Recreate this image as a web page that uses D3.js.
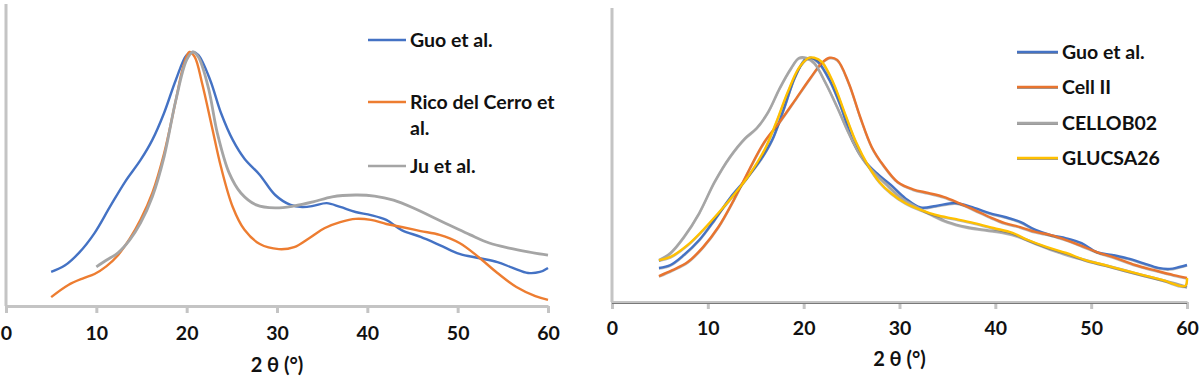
<!DOCTYPE html>
<html>
<head>
<meta charset="utf-8">
<script src="https://cdn.jsdelivr.net/npm/d3@7"></script>
<style>
  body { margin: 0; background: #fff; }
  svg { display: block; font-family: Lato, "Open Sans", sans-serif; font-weight: 700; }
</style>
</head>
<body>
<svg id="chart" width="1200" height="378"></svg>
<script>
// x axis ticks (2 theta, degrees)
const xTicks = [0, 10, 20, 30, 40, 50, 60]
const axisTitle = "2 θ (°)"

// left panel: normalised intensity
const guoLeftX = [5, 6.5, 8.1, 9.8, 11.5, 13.2, 14.9, 16.2, 17.5, 18.8, 20.0, 20.7, 21.3, 22.6, 23.8, 25.1, 26.4, 28.1, 29.8, 31.5, 32.8, 34.0, 35.5, 37.0, 38.7, 40.4, 42.1, 43.8, 45.9, 48.0, 50.2, 52.3, 54.4, 56.1, 57.8, 59.1, 60]
const guoLeftY = [13.4, 15.9, 21, 28.7, 39, 49, 57.5, 65.4, 76, 89, 98.8, 100, 98.8, 89, 76, 65.4, 58, 51.6, 43.7, 39.8, 39, 39.4, 40.5, 39, 37, 35.8, 33.9, 29.9, 27.2, 24, 20.5, 18.9, 17.3, 15, 13, 13.4, 15]
const ricoX = [5, 6.9, 8.6, 9.8, 11.1, 12.4, 13.7, 14.9, 16.2, 17.5, 18.8, 19.6, 20.3, 20.9, 21.7, 22.8, 23.8, 25.1, 26.4, 28.1, 30.2, 31.9, 33.6, 35.3, 37.0, 38.7, 40.4, 42.1, 43.8, 45.9, 48.0, 50.2, 52.3, 54.4, 56.5, 58.6, 60]
const ricoY = [3.5, 8.3, 11, 12.6, 15.6, 20, 26.5, 34, 44.5, 60, 81, 94, 100, 98, 87.8, 70.5, 54.7, 39, 30, 24.4, 22.4, 23.2, 26.8, 30.7, 33, 34.3, 33.9, 32.3, 31.1, 29.5, 28, 24.8, 19.3, 13, 7.5, 3.9, 2.4]
const juX = [10, 11.1, 12.4, 13.7, 14.9, 16.2, 17.5, 18.8, 20.0, 20.7, 21.3, 22.4, 23.4, 24.7, 26.0, 27.7, 29.8, 31.9, 34.0, 36.1, 38.7, 40.8, 42.9, 45.1, 47.2, 49.3, 51.4, 53.5, 55.7, 57.8, 60]
const juY = [15.4, 18, 20.9, 26, 32.7, 43, 58.7, 81, 96.9, 100, 98, 86, 68, 52.4, 44.5, 39.8, 38.6, 39.4, 41, 43, 43.7, 43.3, 41.7, 38.6, 35, 31.5, 28, 24.8, 22.8, 21.3, 20]

// right panel: normalised intensity
const guoRightX = [4.9, 6.1, 7.5, 9.1, 10.7, 12.3, 13.9, 15.5, 16.7, 17.9, 19.1, 20.1, 20.7, 21.5, 22.7, 23.9, 25.1, 26.3, 27.5, 29.1, 30.6, 32.2, 33.8, 35.8, 37.8, 39.4, 41.0, 42.6, 44.2, 45.8, 47.4, 49.0, 50.6, 52.2, 53.8, 55.4, 57.0, 58.2, 59.2, 60]
const guoRightY = [13.9, 15.1, 19.2, 25.3, 33.5, 42.4, 49.8, 58, 66, 78.4, 91.8, 98.8, 99.7, 98, 90.6, 79.6, 66, 58, 53, 47.8, 42.4, 38.6, 39.2, 40.4, 38.4, 36.3, 34.7, 32.7, 29.4, 27.3, 26, 24, 20.4, 19.2, 17.8, 15.9, 13.9, 13.5, 14.3, 15.1]
const cellX = [4.9, 6.3, 7.9, 9.5, 11.1, 12.7, 14.3, 15.9, 17.5, 19.1, 20.7, 21.9, 22.7, 23.5, 24.7, 25.9, 27.1, 28.3, 29.8, 31.4, 33.0, 34.6, 36.2, 37.8, 39.4, 41.0, 42.6, 44.2, 45.8, 47.4, 49.0, 50.6, 52.6, 54.6, 56.6, 58.6, 60]
const cellY = [10.6, 13, 16.3, 22.4, 30.6, 41.6, 53.9, 65.3, 73.5, 82.4, 91.4, 97.6, 99.7, 98.8, 89.4, 75.5, 63.3, 55.9, 49, 46, 44.5, 42.9, 40.4, 37.6, 34.7, 32.2, 30.6, 28.6, 27.3, 25.3, 22.9, 20.4, 17.9, 15.1, 13, 11, 9.8]
const cellobX = [4.9, 6.1, 7.5, 9.1, 10.7, 12.3, 13.9, 15.1, 16.3, 17.5, 18.7, 19.5, 20.3, 21.1, 22.3, 23.5, 24.7, 25.9, 27.1, 28.7, 30.2, 31.8, 33.4, 35.0, 37.0, 39.0, 41.0, 42.6, 44.6, 46.6, 48.6, 50.6, 52.6, 54.6, 56.6, 58.6, 60]
const cellobY = [17.1, 20, 26.5, 36.3, 49, 59.2, 66.9, 71, 77.6, 87.3, 95.5, 99.6, 99.6, 97.6, 89.4, 79.6, 69, 60, 53.9, 47.8, 42.4, 38.8, 35.5, 32.7, 30.6, 29.4, 28.2, 26.5, 23.3, 20.4, 18, 15.9, 13.9, 11.8, 9.8, 7.8, 6.1]
const glucX = [4.9, 6.1, 7.9, 9.5, 11.1, 12.7, 14.3, 15.9, 17.1, 18.3, 19.5, 20.5, 21.1, 21.9, 23.1, 24.3, 25.5, 26.7, 27.9, 29.1, 30.6, 32.2, 33.8, 35.8, 37.8, 39.8, 41.8, 43.4, 45.4, 47.4, 49.4, 51.4, 53.4, 55.4, 57.4, 59.8, 60]
const glucY = [17.1, 18.4, 23.3, 29.4, 36.3, 43.7, 51.8, 62, 73, 85.3, 95.5, 99.6, 99.7, 98, 89.4, 77, 65, 55.9, 49, 44.5, 40.4, 37.6, 35.5, 33.9, 32.2, 30.2, 28.2, 25.3, 22.4, 20, 17.1, 15.1, 13, 11, 9, 6.5, 9.8]

const leftSeries = [
    {name: "Guo et al.", x: guoLeftX, y: guoLeftY, color: "#4472c4"},
    {name: "Rico del Cerro et|al.", x: ricoX, y: ricoY, color: "#ed7d31"},
    {name: "Ju et al.", x: juX, y: juY, color: "#a5a5a5", width: 2.8}
]
const rightSeries = [
    {name: "Guo et al.", x: guoRightX, y: guoRightY, color: "#4472c4"},
    {name: "Cell II", x: cellX, y: cellY, color: "#e8742f"},
    {name: "CELLOB02", x: cellobX, y: cellobY, color: "#a5a5a5"},
    {name: "GLUCSA26", x: glucX, y: glucY, color: "#ffc000"}
]

const svg = d3.select("#chart")

function drawPanel(cfg) {
    const xScale = d3.scaleLinear()
                     .domain([0, 60])
                     .range([cfg.left, cfg.right])
    const yScale = d3.scaleLinear()
                     .domain([0, 100])
                     .range([cfg.base, cfg.peak])
    const g = svg.append("g")

    // y axis (no ticks)
    g.append("line")
     .attr("x1", cfg.left).attr("x2", cfg.left)
     .attr("y1", cfg.top).attr("y2", cfg.base)
     .attr("stroke", "#c4c4c4")
     .attr("stroke-width", 3)

    // x axis
    const xAxis = d3.axisBottom(xScale)
                    .tickValues(xTicks)
                    .tickSize(7)
                    .tickSizeOuter(0)
                    .tickFormat(d3.format("d"))
    const ax = g.append("g")
                .attr("transform", `translate(0, ${cfg.base})`)
                .call(xAxis)
    ax.select(".domain")
      .attr("stroke", "#c4c4c4")
      .attr("stroke-width", 3)
    ax.selectAll(".tick line")
      .attr("stroke", "#c4c4c4")
      .attr("stroke-width", 3)
    ax.selectAll(".tick text")
      .attr("y", cfg.labelOffset)
      .attr("dy", 0)
      .attr("fill", "#111")
      .attr("font-size", "19.5px")
      .attr("font-family", "Lato, sans-serif")
      .attr("font-weight", 700)
    if (cfg.darkEdge) {
        ax.append("line")
          .attr("x1", cfg.left).attr("x2", cfg.right)
          .attr("y1", 1.5).attr("y2", 1.5)
          .attr("stroke", "#666")
          .attr("stroke-width", 0.8)
    }

    g.append("text")
     .attr("x", (cfg.left + cfg.right) / 2)
     .attr("y", cfg.titleY)
     .attr("text-anchor", "middle")
     .attr("font-size", "20px")
     .attr("fill", "#111")
     .text(axisTitle)

    // series
    const line = d3.line()
                   .x(d => xScale(d[0]))
                   .y(d => yScale(d[1]))
                   .curve(d3.curveCatmullRom.alpha(0.5))
    cfg.series.forEach(s => {
        const pts = s.x.map((v, i) => [v, s.y[i]])
        if (cfg.darkEdge) {
            g.append("path")
             .attr("d", line(pts))
             .attr("fill", "none")
             .attr("stroke", "#333")
             .attr("stroke-opacity", 0.35)
             .attr("stroke-width", 2.2)
             .attr("transform", "translate(0, 0.8)")
        }
        g.append("path")
         .attr("d", line(pts))
         .attr("fill", "none")
         .attr("stroke", s.color)
         .attr("stroke-width", s.width || 2.4)
    })

    // legend
    const lg = g.append("g")
    cfg.series.forEach((s, i) => {
        const y = cfg.legendY[i]
        if (cfg.darkEdge) {
            lg.append("line")
              .attr("x1", cfg.legendX).attr("x2", cfg.legendX + cfg.legendLen)
              .attr("y1", y + 0.8).attr("y2", y + 0.8)
              .attr("stroke", "#333").attr("stroke-opacity", 0.5)
              .attr("stroke-width", 2.4)
        }
        lg.append("line")
          .attr("x1", cfg.legendX).attr("x2", cfg.legendX + cfg.legendLen)
          .attr("y1", y).attr("y2", y)
          .attr("stroke", s.color)
          .attr("stroke-width", 2.5)
        s.name.split("|").forEach((t, j) => {
            lg.append("text")
              .attr("x", cfg.legendX + cfg.legendLen + 4)
              .attr("y", y + j * 26)
              .attr("dy", "0.35em")
              .attr("font-size", cfg.legendFont)
              .attr("fill", "#111")
              .text(t)
        })
    })
}

drawPanel({
    left: 6, right: 548, top: 4, base: 306, peak: 52,
    labelOffset: 34, titleY: 372,
    series: leftSeries,
    legendX: 368, legendLen: 38, legendY: [40, 102, 166], legendFont: "19.5px",
    darkEdge: false
})
drawPanel({
    left: 612, right: 1187, top: 8, base: 302, peak: 57,
    labelOffset: 33, titleY: 366,
    series: rightSeries,
    legendX: 1017, legendLen: 41, legendY: [52, 87, 123, 158], legendFont: "19.5px",
    darkEdge: true
})
</script>
</body>
</html>
